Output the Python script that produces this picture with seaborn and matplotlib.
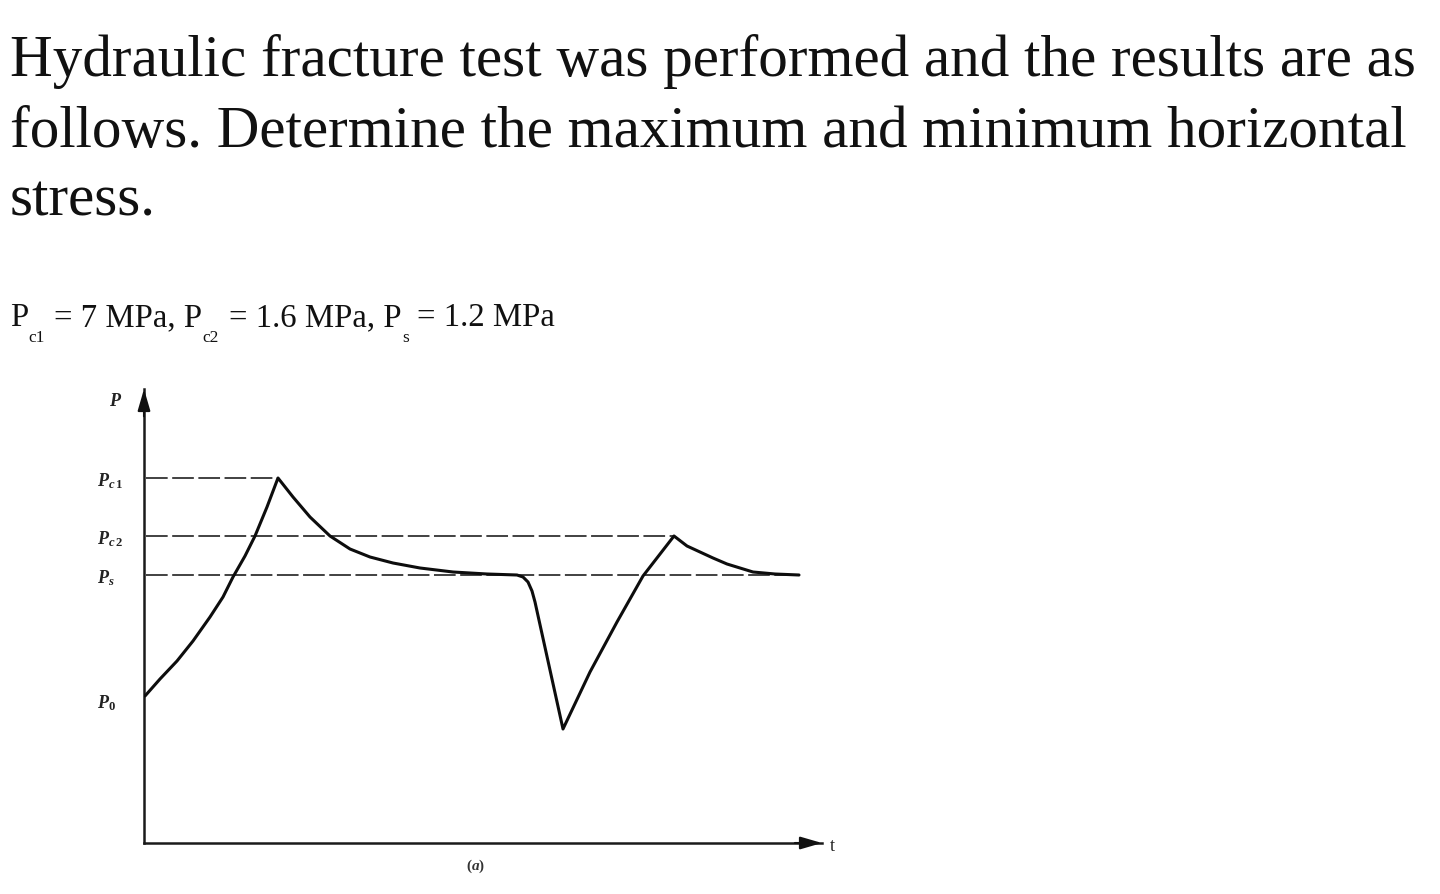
# %% Imports
import pandas as pd
import matplotlib.pyplot as plt
import seaborn as sns

sns.set_theme(style="white")
plt.rcParams['font.family'] = ['Liberation Serif', 'DejaVu Serif']
plt.rcParams['mathtext.fontset'] = 'custom'
plt.rcParams['mathtext.it'] = 'Liberation Serif:italic:bold'
plt.rcParams['mathtext.rm'] = 'Liberation Serif:bold'

# %% Data (schematic units, no scale printed)
time_obs = [1, 16, 33, 49, 66, 79, 89, 101, 111, 123, 134,
            149, 166, 186, 206, 226, 249, 276, 309, 343, 373,
            379, 384, 388, 391, 419,
            446, 473, 499, 530,
            543, 556, 569, 583, 609, 631, 655]
pressure_obs = [147, 164, 182, 202, 226, 246, 266, 287, 307, 336, 365,
                346, 326, 307, 294, 286, 280, 275, 271, 269, 268,
                266, 261, 252, 241, 114,
                171, 221, 267, 307,
                297, 291, 285, 279, 271, 269, 268]
pressure_levels = [365, 307, 268]
level_ends = [134, 530, 655]
level_labels = [r'$P_{c\,1}$', r'$P_{c\,2}$', r'$P_{s}$']
p0_level = 143
p0_label = r'$P_{0}$'

question_lines = ['Hydraulic fracture test was performed and the results are as',
                  'follows. Determine the maximum and minimum horizontal',
                  'stress.']
question_baselines = [76, 147, 215]

given_parts = ['P', '= 7 MPa, P', '= 1.6 MPa, P', '= 1.2 MPa']
given_x = [10, 54, 229, 417]
sub_parts = ['c1', 'c2', 's']
sub_x = [28, 202, 402]

W, H = 1440, 895
fig = plt.figure(figsize=(W / 100, H / 100), dpi=100)


def px(x, y):
    return x / W, 1 - y / H


# %% Text above the chart
ink = '#111111'
for line, base in zip(question_lines, question_baselines):
    fig.text(*px(10, base), line, fontsize=42.6, color=ink, va='baseline')
for part, x in zip(given_parts, given_x):
    fig.text(*px(x, 326), part, fontsize=23.6, color=ink, va='baseline')
for part, x in zip(sub_parts, sub_x):
    fig.text(*px(x, 342), part, fontsize=12.5, color=ink, va='baseline')

# %% Axes: origin at the corner of the sketch
ax = fig.add_axes([144 / W, 1 - 844 / H, 678 / W, 454 / H])
ax.set_xlim(0, 678)
ax.set_ylim(0, 454)
ax.patch.set_alpha(0)

curve = pd.DataFrame({'t': time_obs, 'P': pressure_obs})
sns.lineplot(data=curve, x='t', y='P', sort=False, color='#0d0d0d', lw=2.2, ax=ax, zorder=3)
for level, end in zip(pressure_levels, level_ends):
    ax.plot([2, end], [level, level], color='#333333', lw=1.3, dashes=(12, 2.5), zorder=2)

# %% Spines, arrows and labels
sns.despine(ax=ax)
for side in ['left', 'bottom']:
    ax.spines[side].set_linewidth(1.8)
    ax.spines[side].set_color('#1a1a1a')
head = dict(arrowstyle='-|>,head_length=1.1,head_width=0.32', color='#111111', lw=1.5, shrinkA=0, shrinkB=0)
ax.annotate('', xy=(1, 0), xytext=(0.96, 0), xycoords='axes fraction', arrowprops=head)
ax.annotate('', xy=(0, 1), xytext=(0, 0.94), xycoords='axes fraction', arrowprops=head)

ax.set_xticks([])
ax.set_yticks(pressure_levels + [p0_level], level_labels + [p0_label])
ax.tick_params(axis='y', length=0, pad=34, labelsize=13, labelcolor='#222222')
for label in ax.get_yticklabels():
    label.set_ha('left')
ax.set_xlabel('')
ax.set_ylabel('')

fig.text(*px(109, 406), r'$P$', fontsize=13, color='#222222', va='baseline')
fig.text(*px(830, 851), 't', fontsize=13, color='#222222', va='baseline')
fig.text(*px(466, 870), r'$(a)$', fontsize=11, color='#333333', va='baseline')

fig.savefig('out.png', dpi=100)
